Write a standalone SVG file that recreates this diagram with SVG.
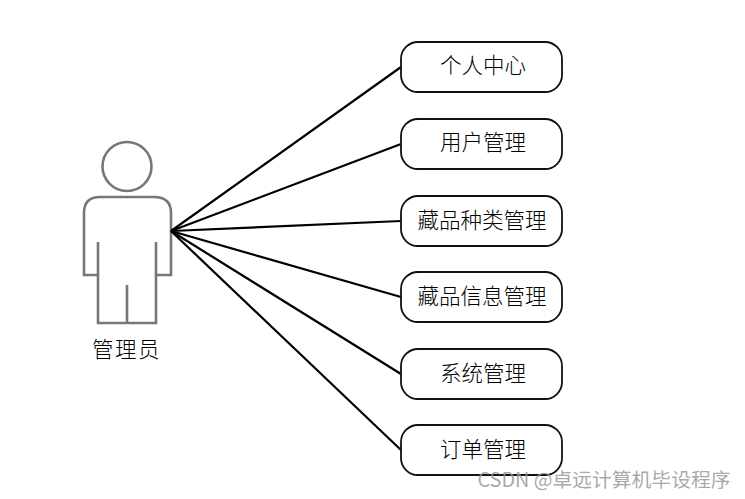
<svg xmlns="http://www.w3.org/2000/svg" width="745" height="499" viewBox="0 0 745 499">
<style>
.n rect{fill:#fff;stroke:#111;stroke-width:1.8}
.l{font-family:"Noto Sans CJK SC","Liberation Serif",serif;font-size:21.5px;font-weight:300;fill:#000;text-anchor:middle}
.c line{stroke:#000;stroke-width:2.2}
.a{fill:none;stroke:#777;stroke-width:2.6}
</style>
<rect width="745" height="499" fill="#fff"/>
<g id="actor">
<circle class="a" cx="127" cy="166.500" r="24.500"/>
<path class="a" d="M98 275H84V213Q84 197 100 197H154Q171 197 171 213V275H156M98 242V323H156V242M127 285V323"/>
<text class="l" x="126.500" y="357" letter-spacing="1.500">管理员</text>
</g>
<g id="connectors" class="c">
<line x1="171" y1="231" x2="401" y2="67"/>
<line x1="171" y1="231" x2="401" y2="144"/>
<line x1="171" y1="231" x2="401" y2="221"/>
<line x1="171" y1="231" x2="401" y2="297"/>
<line x1="171" y1="231" x2="401" y2="374"/>
<line x1="171" y1="231" x2="401" y2="450"/>
</g>
<g id="n1" class="n"><rect x="401" y="42" width="161" height="50" rx="17"/><text class="l" x="483" y="73">个人中心</text></g>
<g id="n2" class="n"><rect x="401" y="119" width="161" height="50" rx="17"/><text class="l" x="483" y="150">用户管理</text></g>
<g id="n3" class="n"><rect x="401" y="196" width="161" height="50" rx="17"/><text class="l" x="482" y="228">藏品种类管理</text></g>
<g id="n4" class="n"><rect x="401" y="272" width="161" height="50" rx="17"/><text class="l" x="482" y="304">藏品信息管理</text></g>
<g id="n5" class="n"><rect x="401" y="349" width="161" height="50" rx="17"/><text class="l" x="483" y="381">系统管理</text></g>
<g id="n6" class="n"><rect x="401" y="425" width="161" height="50" rx="17"/><text class="l" x="483" y="457">订单管理</text></g>
<text x="604" y="487" font-family="'Noto Sans CJK SC','Liberation Sans',sans-serif" font-size="19.800" fill="#999" fill-opacity=".85" text-anchor="middle">CSDN @卓远计算机毕设程序</text>
</svg>
